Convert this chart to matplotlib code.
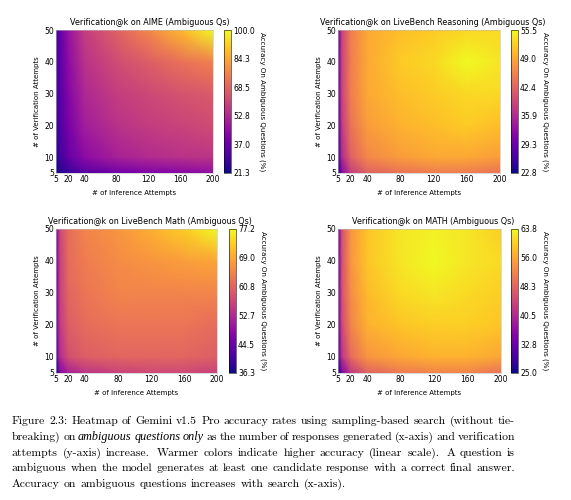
import numpy as np
import matplotlib
matplotlib.use("Agg")
import matplotlib.pyplot as plt

x_attempts = [5, 10, 20, 40, 80, 120, 160, 200]
y_verif = [5, 10, 20, 30, 40, 50]
x_ticks = [5, 20, 40, 80, 120, 160, 200]
y_ticks = [5, 10, 20, 30, 40, 50]

# rows: y = 5, 10, 20, 30, 40, 50
aime = [
    [21.3, 24, 28, 33, 38, 41, 43, 45],
    [24, 29, 36, 44, 50, 53, 55, 56],
    [27, 32, 40, 49, 55, 58, 60, 62],
    [29, 33, 42, 52, 58, 61, 64, 66],
    [30, 34, 44, 55, 62, 67, 72, 76],
    [31, 35, 46, 58, 68, 77, 88, 100.0],
]
lb_reasoning = [
    [22.8, 32, 38, 42, 44, 45, 45, 44],
    [25, 36, 42, 46, 48, 49, 49, 48],
    [27, 38, 44, 48, 50, 51, 52, 51],
    [28, 39, 45, 49, 51, 52, 53, 53],
    [28, 39, 45, 49, 52, 53, 55.5, 54],
    [28, 39, 45, 49, 51, 52, 53, 53],
]
lb_math = [
    [36.3, 47, 51, 54, 56, 57, 57, 56],
    [42, 53, 58, 60, 61, 61, 61, 60],
    [44, 55, 60, 62, 63, 63, 63, 62],
    [45, 56, 61, 63, 65, 65, 65, 65],
    [45, 56, 62, 64, 66, 67, 68, 69],
    [46, 57, 62, 65, 67, 70, 73, 77.2],
]
math_ds = [
    [25.0, 35, 42, 48, 51, 52, 52, 50],
    [30, 42, 49, 54, 56, 57, 57, 56],
    [32, 45, 52, 57, 59, 60, 60, 59],
    [33, 46, 53, 58, 61, 62, 61, 60],
    [33, 46, 54, 59, 62, 63.8, 62, 61],
    [33, 46, 54, 59, 62, 63, 62, 60],
]

panels = [
    ("Verification@k on AIME (Ambiguous Qs)", aime),
    ("Verification@k on LiveBench Reasoning (Ambiguous Qs)", lb_reasoning),
    ("Verification@k on LiveBench Math (Ambiguous Qs)", lb_math),
    ("Verification@k on MATH (Ambiguous Qs)", math_ds),
]

W, H = 571, 500
# axes boxes in pixels: left, right, top, bottom, cbar left, cbar right, title centre
boxes = [
    (56, 213, 30, 173, 224, 231, 150),
    (338, 500, 30, 173, 511, 518, 433),
    (56, 217, 229, 373, 229, 236, 150),
    (338, 501, 229, 373, 511, 518, 433),
]

fig = plt.figure(figsize=(W / 100, H / 100), dpi=100)

for (title, vals), (l, r, t, b, cl, cr, tc) in zip(panels, boxes):
    ax = fig.add_axes([l / W, (H - b) / H, (r - l) / W, (b - t) / H])
    cax = fig.add_axes([cl / W, (H - b) / H, (cr - cl) / W, (b - t) / H])
    Z = np.array(vals)
    mesh = ax.pcolormesh(x_attempts, y_verif, Z, shading="gouraud", cmap="plasma")
    ax.set_xlim(5, 200)
    ax.set_ylim(5, 50)
    ax.set_xticks(x_ticks)
    ax.set_yticks(y_ticks)
    ax.tick_params(labelsize=5.5, length=0, pad=1.5)
    for s in ax.spines.values():
        s.set_linewidth(0.4)
        s.set_color("#bbbbbb")
    ax.set_title(title, fontsize=5.75, pad=3.5, x=(tc - l) / (r - l))
    ax.set_xlabel("# of Inference Attempts", fontsize=5.0, labelpad=4)
    ax.set_ylabel("# of Verification Attempts", fontsize=5.0, labelpad=3)

    cb = fig.colorbar(mesh, cax=cax)
    vmin, vmax = Z.min(), Z.max()
    cb.set_ticks(np.linspace(vmin, vmax, 6))
    cb.set_ticklabels([f"{v:.1f}" for v in np.linspace(vmin, vmax, 6)])
    cb.ax.tick_params(labelsize=5.5, length=0, pad=1.5)
    cb.outline.set_linewidth(0.4)
    cb.set_label("Accuracy On Ambiguous Questions (%)", fontsize=5.1,
                 rotation=270, labelpad=8)

caption = [
    "Figure 2.3: Heatmap of Gemini v1.5 Pro accuracy rates using sampling-based search (without tie-",
    "breaking) on *ambiguous *questions *only as the number of responses generated (x-axis) and verification",
    "attempts (y-axis) increase.  Warmer colors indicate higher accuracy (linear scale).  A question is",
    "ambiguous when the model generates at least one candidate response with a correct final answer.",
    "Accuracy on ambiguous questions increases with search (x-axis).",
]
line_y = [424.3, 440, 455.7, 471.3, 487]
x_left, x_right = 12, 515
cap_size = 8.45
sp = 4.2  # inter-word space on the last (ragged) line, px

# justified caption: place words one by one, sentence gaps a bit wider
renderer = fig.canvas.get_renderer()
for i, (txt, yy) in enumerate(zip(caption, line_y)):
    tokens = txt.replace("  ", " \x00").split(" ")
    words, extra = [], []
    for tk in tokens:
        extra.append(1 if tk.startswith("\x00") else 0)
        words.append(tk.replace("\x00", ""))
    extra = extra[1:] + [0]
    objs = []
    for w in words:
        if w.startswith("*"):
            o = fig.text(0, 1 - yy / H, w[1:], fontsize=cap_size + 0.3,
                         family="Liberation Serif", style="italic",
                         ha="left", va="baseline")
        else:
            o = fig.text(0, 1 - yy / H, w, fontsize=cap_size, family="cmr10",
                         ha="left", va="baseline")
        objs.append(o)
    widths = [o.get_window_extent(renderer).width for o in objs]
    if i < len(caption) - 1:
        units = (len(words) - 1) + 0.5 * sum(extra)
        gap = (x_right - x_left - sum(widths)) / units
    else:
        gap = sp
    x = x_left
    for o, wd, e in zip(objs, widths, extra):
        o.set_x(x / W)
        x += wd + gap * (1 + 0.5 * e)

fig.savefig("out.png", dpi=100)
